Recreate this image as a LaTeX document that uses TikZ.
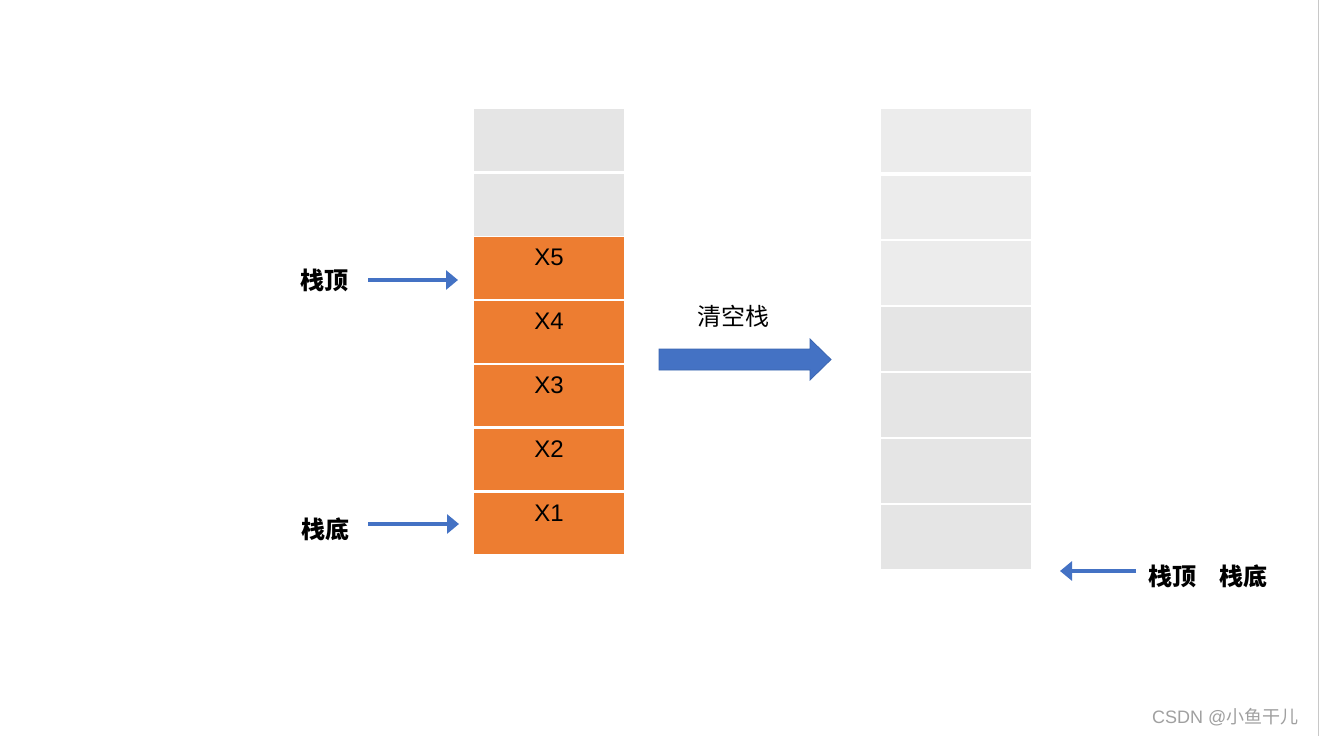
\documentclass[tikz,border=0pt]{standalone}
\usepackage{fontspec}
\setmainfont{Liberation Sans}
\newfontfamily\cjk{Noto Sans CJK SC}
\usetikzlibrary{arrows.meta}
\definecolor{cellgray}{HTML}{E5E5E5}
\definecolor{cellgraylt}{HTML}{ECECEC}
\definecolor{stackorange}{HTML}{ED7D31}
\definecolor{arrowblue}{HTML}{4472C4}
\definecolor{arrowedge}{HTML}{3A65B0}
\definecolor{wmgray}{HTML}{A0A0A0}
\tikzset{
  cellbox/.style={draw=white, line width=1.2pt, inner sep=0pt, minimum width=151pt, minimum height=63pt},
  xlab/.style={inner sep=0pt, font=\fontsize{24}{28}\selectfont},
  cnlab/.style={inner sep=0pt, font=\cjk\bfseries\fontsize{24}{28}\selectfont},
  ptr/.style={draw=arrowblue, line width=3.6pt, -{Triangle[length=12pt,width=19pt]}},
}
\begin{document}
\begin{tikzpicture}[x=1pt,y=-1pt]
\useasboundingbox (0,0) rectangle (1320,736);
\fill[white] (0,0) rectangle (1320,736);
\draw[line width=1.5pt, draw={rgb,255:red,200;green,200;blue,200}] (1318.5,0) -- (1318.5,736);

% left stack
\node[cellbox, fill=cellgray] (l7) at (549,140) {};
\node[cellbox, fill=cellgray] (l6) at (549,205) {};
\node[cellbox, fill=stackorange] (l5) at (549,268) {};
\node[cellbox, fill=stackorange] (l4) at (549,332) {};
\node[cellbox, fill=stackorange] (l3) at (549,395.5) {};
\node[cellbox, fill=stackorange] (l2) at (549,459.5) {};
\node[cellbox, fill=stackorange] (l1) at (549,523.5) {};
\node[xlab] (t5) at (549,257) {X5};
\node[xlab] (t4) at (549,321) {X4};
\node[xlab] (t3) at (549,385) {X3};
\node[xlab] (t2) at (549,449) {X2};
\node[xlab] (t1) at (549,513) {X1};

% right stack
\node[cellbox, fill=cellgraylt, minimum height=65pt, minimum width=152pt] (r7) at (956,140.5) {};
\node[cellbox, fill=cellgraylt, minimum height=65pt, minimum width=152pt] (r6) at (956,207.5) {};
\node[cellbox, fill=cellgraylt, minimum height=66pt, minimum width=152pt] (r5) at (956,273) {};
\node[cellbox, fill=cellgray, minimum height=66pt, minimum width=152pt] (r4) at (956,339) {};
\node[cellbox, fill=cellgray, minimum height=66pt, minimum width=152pt] (r3) at (956,405) {};
\node[cellbox, fill=cellgray, minimum height=66pt, minimum width=152pt] (r2) at (956,471) {};
\node[cellbox, fill=cellgray, minimum height=66pt, minimum width=152pt] (r1) at (956,537) {};

% left labels and pointers
\node[cnlab] (topL) at (324,280) {栈顶};
\node[cnlab] (botL) at (325,529) {栈底};
\coordinate (topLs) at (368,280);
\coordinate (topLe) at (458,280);
\coordinate (botLs) at (368,524);
\coordinate (botLe) at (459,524);
\draw[ptr] (topLs) -- (topLe);
\draw[ptr] (botLs) -- (botLe);

% big arrow
\node[inner sep=0pt, font=\cjk\fontsize{24}{28}\selectfont] (clr) at (733,316) {清空栈};
\filldraw[fill=arrowblue, draw=arrowedge, line width=0.8pt]
  (659,349) -- (810,349) -- (810,339) -- (831,359.5) -- (810,380) -- (810,370) -- (659,370) -- cycle;

% right labels and pointer
\node[cnlab] (topR) at (1172,576) {栈顶};
\node[cnlab] (botR) at (1243,576) {栈底};
\coordinate (topRs) at (1136,571);
\coordinate (topRe) at (1060,571);
\draw[ptr] (topRs) -- (topRe);

% watermark
\node[anchor=west, inner sep=0pt, text=wmgray, font=\fontsize{18}{20}\selectfont] (wm) at (1152,717) {CSDN @{\cjk 小鱼干儿}};
\end{tikzpicture}
\end{document}
